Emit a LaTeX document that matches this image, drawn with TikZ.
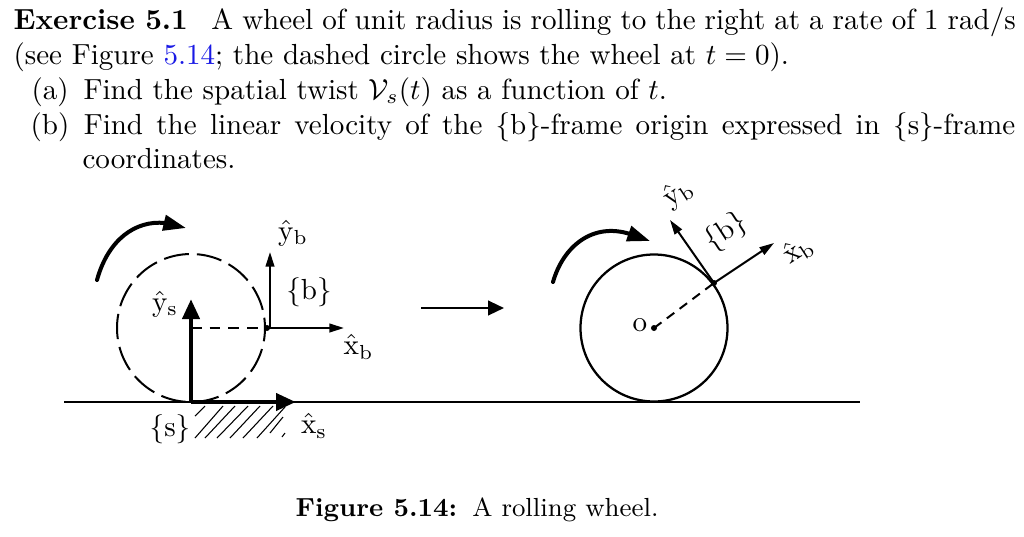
\documentclass[tikz,border=0pt]{standalone}
\usepackage{amsmath}
\usepackage{amssymb}
\usepackage{xcolor}
\usetikzlibrary{arrows.meta}
\definecolor{reflink}{rgb}{0.1,0.1,0.9}
\newcommand{\vechat}[2]{$\hat{\mathrm{#1}}_{\mathrm{#2}}$}
\tikzset{
  textline/.style={anchor=base west,inner sep=0pt,scale=2.18,transform shape},
  lab/.style={inner sep=0pt,scale=2.18,transform shape},
  bframe/.style={line width=1.5pt,-{Triangle[length=11pt,width=6.5pt]}},
  sframe/.style={line width=3.6pt,-{Triangle[length=15pt,width=12.5pt]}},
  spin/.style={line width=3pt,line cap=round,-{Triangle[length=17pt,width=11.5pt]}},
  dashline/.style={line width=1.5pt,dash pattern=on 8pt off 6pt}
}
\begin{document}
\begin{tikzpicture}[x=0.75pt,y=-0.75pt]
\useasboundingbox (0,0) rectangle (1024,536);

% exercise text
\node[textline] (line1) at (13,29.5) {\makebox[344.8pt][s]{\textbf{Exercise 5.1}\hspace{0.5em} A wheel of unit radius is rolling to the right at a rate of 1 rad/s}};
\node[textline] (line2) at (13,64) {(see Figure \textcolor{reflink}{5.14}; the dashed circle shows the wheel at $t=0$).};
\node[textline] (line3) at (31,99) {\makebox[17.9pt][l]{(a)}Find the spatial twist $\mathcal{V}_s(t)$ as a function of $t$.};
\node[textline] (line4) at (30,134) {\makebox[338.8pt][s]{\makebox[18.3pt][l]{(b)}Find the linear velocity of the \{b\}-frame origin expressed in \{s\}-frame}};
\node[textline] (line5) at (82,168) {coordinates.};

% left wheel
\coordinate (gl) at (64,402);
\coordinate (gr) at (860,402);
\draw[line width=1.5pt] (gl) -- (gr);
\coordinate (c1) at (191,328);
\draw[line width=1.5pt,dash pattern=on 19pt off 6pt,dash phase=9pt] (c1) circle (74);
\coordinate (os) at (191,402);
\coordinate (sy) at (191,299);
\coordinate (sx) at (296,402);
\coordinate (ob) at (270,328);
\coordinate (odot) at (267,328);
\coordinate (by) at (270,252);
\coordinate (bx) at (344,328);
\foreach \a/\b/\c/\d in {195/416/205/406,195/438/223/406,205/438/235/406,217/438/248/406,230/438/260/406,243/438/273/406,257/438/285/407,270/433/283/417,282/437/285/433}
  \draw[line width=0.8pt] (\a,\b) -- (\c,\d);
\draw[dashline] (os|-c1) -- (odot);
\draw[sframe] (os) -- (sy);
\draw[sframe] (os) -- (sx);
\draw[bframe] (ob) -- (by);
\draw[bframe] (odot) -- (bx);
\fill (odot) circle (3);
\draw[spin] (97,280) .. controls (108,240) and (135,220) .. (165,223) -- (186,228);

\node[lab] (ysl) at (165,304) {\vechat{y}{s}};
\node[lab] (ybl) at (293,233) {\vechat{y}{b}};
\node[lab] (xbl) at (358.5,347) {\vechat{x}{b}};
\node[lab] (xsl) at (314,426) {\vechat{x}{s}};
\node[lab] (bl) at (309,292) {\{b\}};
\node[lab] (sl) at (170,429) {\{s\}};

% motion arrow
\coordinate (ma) at (421,308);
\coordinate (mb) at (504,308);
\draw[line width=1.7pt,-{Triangle[length=12pt,width=11pt]}] (ma) -- (mb);

% right wheel
\coordinate (c2) at (654,328);
\draw[line width=1.7pt] (c2) circle (73.5);
\coordinate (ob2) at (714,283);
\coordinate (by2) at (670,220);
\coordinate (bx2) at (774,243);
\draw[dashline,dash pattern=on 7pt off 5pt] (c2) -- (ob2);
\draw[bframe] (ob2) -- (by2);
\draw[bframe] (ob2) -- (bx2);
\fill (ob2) circle (3);
\fill (c2) circle (3);
\draw[spin] (553,282) .. controls (563,247) and (592,222) .. (630,234) -- (650,241);

\node[lab] (ol) at (640,325) {o};
\node[lab,rotate=33] (yb2) at (678,193) {\vechat{y}{b}};
\node[lab,rotate=33] (xb2) at (798,250) {\vechat{x}{b}};
\node[lab,rotate=33] (bl2) at (726,232) {\{b\}};

\node[textline] (cap) at (295,516) {\small\textbf{Figure 5.14:}\hspace{5.2pt}A rolling wheel.};
\end{tikzpicture}
\end{document}
